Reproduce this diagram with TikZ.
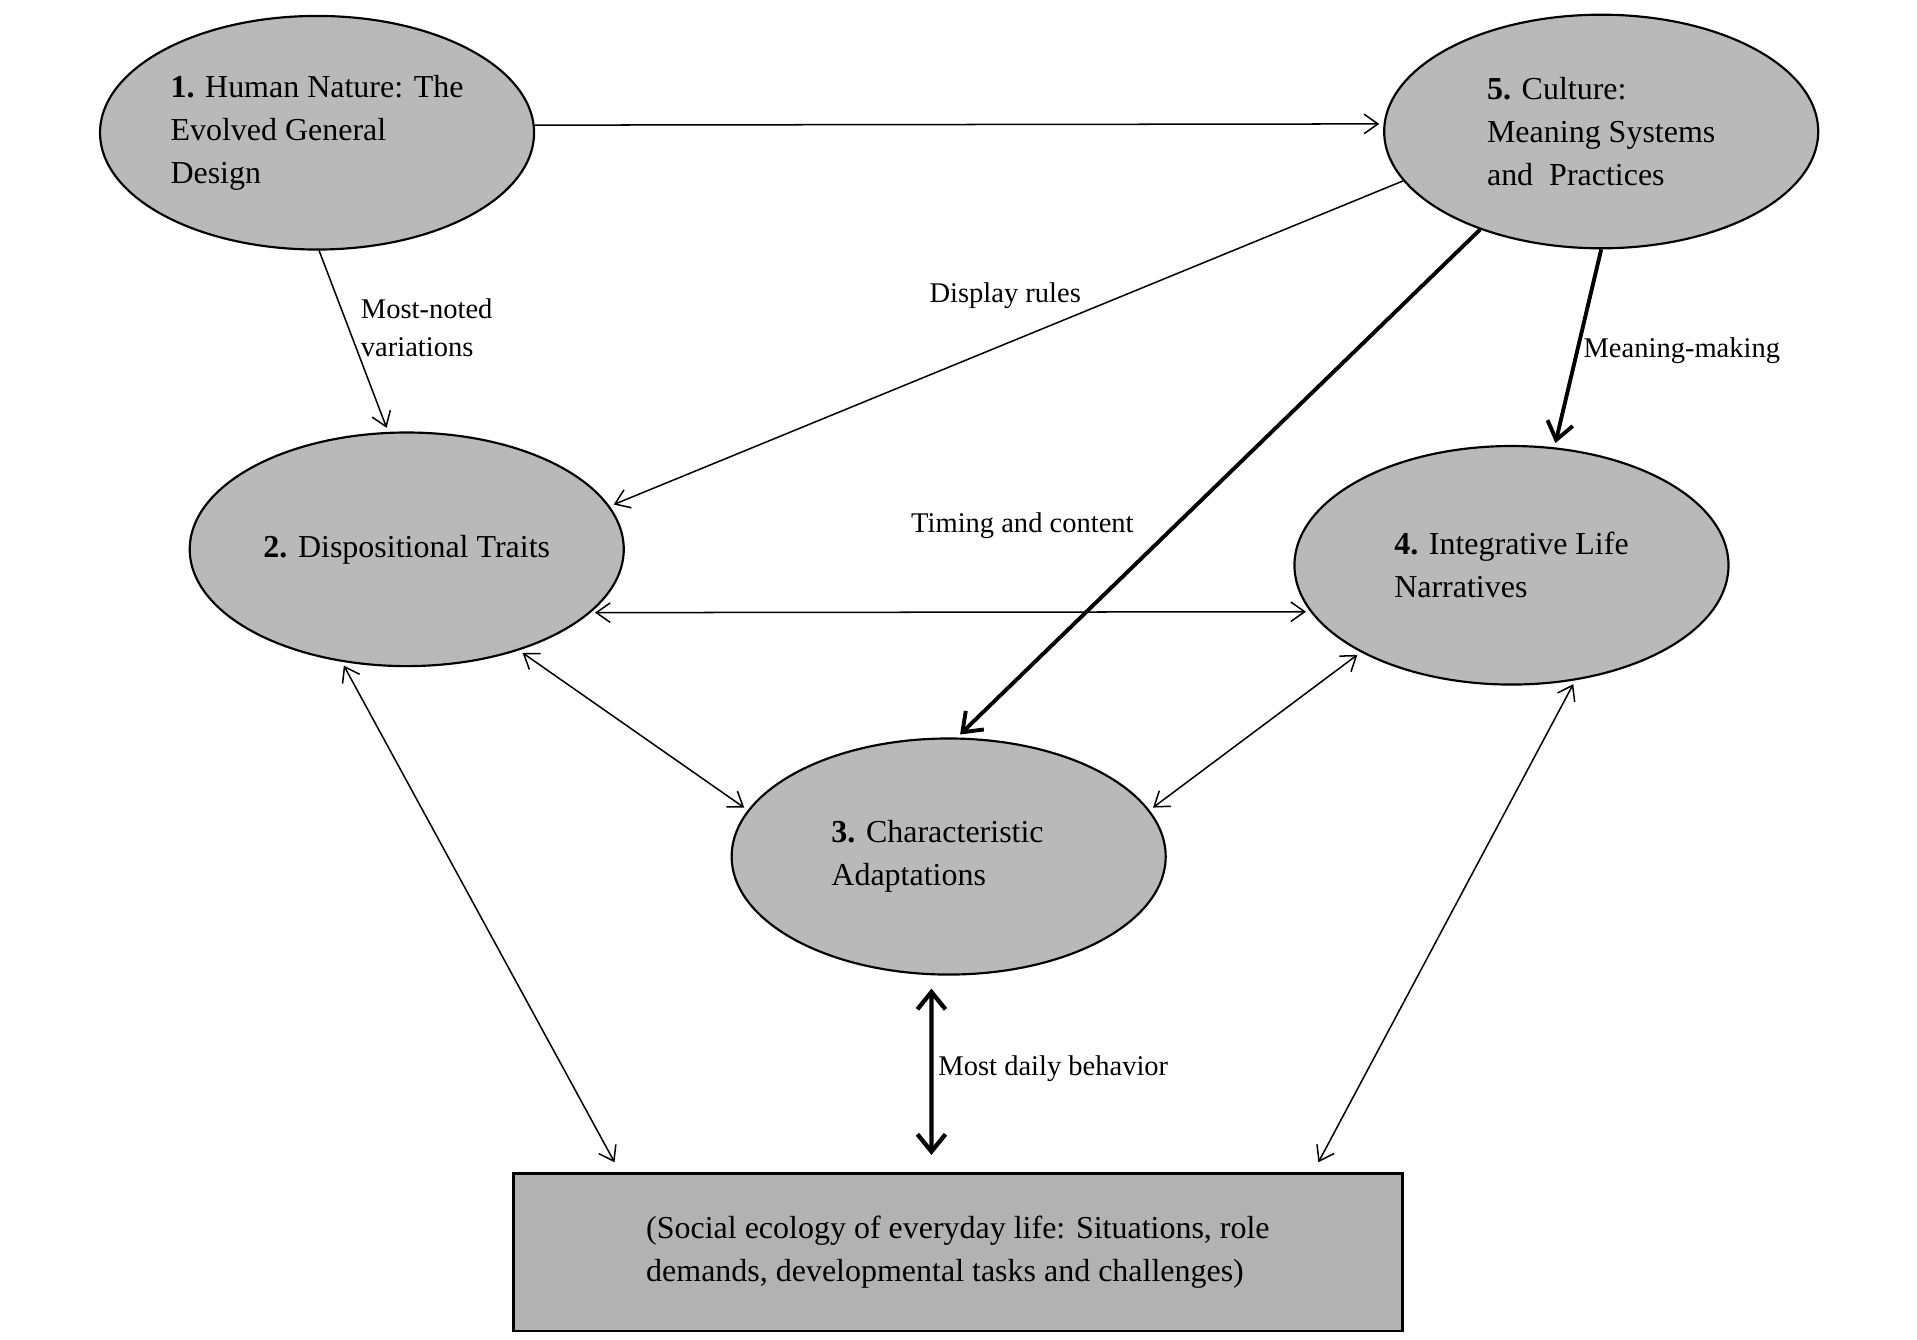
\documentclass[tikz,border=0pt]{standalone}
\usepackage{fontspec}
\setmainfont{Liberation Serif}
\usetikzlibrary{shapes.geometric,arrows.meta}
\begin{document}
\begin{tikzpicture}[x=0.01cm,y=-0.01cm,
  ell/.style={ellipse,draw,line width=0.5pt,fill=gray!55,minimum width=3.53cm,minimum height=1.9cm,align=left,inner sep=0pt,font=\fontsize{7.4}{9.9}\selectfont},
  thin/.style={line width=0.35pt,{Straight Barb[length=3.2pt,width=4.5pt]}-{Straight Barb[length=3.2pt,width=4.5pt]},shorten <=1pt,shorten >=1pt},
  one/.style={line width=0.35pt,-{Straight Barb[length=3.2pt,width=4.5pt]},shorten >=1pt},
  thick1/.style={line width=0.9pt,-{Straight Barb[length=4pt,width=6pt]},shorten >=1pt},
  lab/.style={font=\fontsize{6.6}{8.8}\selectfont,align=left,inner sep=0pt}]
\useasboundingbox (0,0) rectangle (1560,1090);
\node[ell] (n1) at (258,108) {\textbf{1.} Human Nature: The\\Evolved General\\Design};
\node[ell] (n5) at (1303,107) {\textbf{5.} Culture:\\Meaning Systems\\and~ Practices};
\node[ell] (n2) at (331,447) {\textbf{2.} Dispositional Traits};
\node[ell,minimum height=1.94cm] (n4) at (1230,460) {\textbf{4.} Integrative Life\\Narratives\hspace*{2.2em}};
\node[ell,minimum height=1.92cm] (n3) at (772,697) {\textbf{3.} Characteristic\\Adaptations\hspace*{2.5em}};
\node[draw,line width=0.6pt,fill=gray!60,minimum width=7.23cm,minimum height=1.28cm,align=left,font=\fontsize{7.4}{9.9}\selectfont] (r) at (779.5,1019) {(Social ecology of everyday life: Situations, role\\demands, developmental tasks and challenges)};

\draw[one] (n1.2) -- (n5.178);
\draw[one] (n1.-89) -- (n2.99);
\draw[one] (n5.194) -- (n2.12);
\draw[thick1] (n5.219) -- (n3.86);
\draw[thick1] (n5.-90) -- (n4.70);
\draw[thin] (n2.-19) -- (n4.193);
\draw[thin] (n2.-42) -- (n3.167);
\draw[thin] (n4.210) -- (n3.13);
\draw[thin] (n2.240) -- ([xshift=0.85cm,yshift=0.05cm]r.north west);
\draw[thin] (n4.-61) -- ([xshift=-0.71cm,yshift=0.05cm]r.north east);
\draw[line width=1pt,{Straight Barb[length=4pt,width=6.5pt]}-{Straight Barb[length=4pt,width=6.5pt]},shorten <=3pt,shorten >=4pt] ([xshift=-0.14cm]n3.south) -- ([xshift=-0.215cm]r.north);

\node[lab,anchor=west] (l1) at (293,267) {Most-noted\\variations};
\node[lab] (l2) at (818,241) {Display rules};
\node[lab] (l3) at (832,428) {Timing and content};
\node[lab,anchor=west] (l4) at (1288,285) {Meaning-making};
\node[lab,anchor=west] (l5) at (763,870) {Most daily behavior};
\end{tikzpicture}
\end{document}
